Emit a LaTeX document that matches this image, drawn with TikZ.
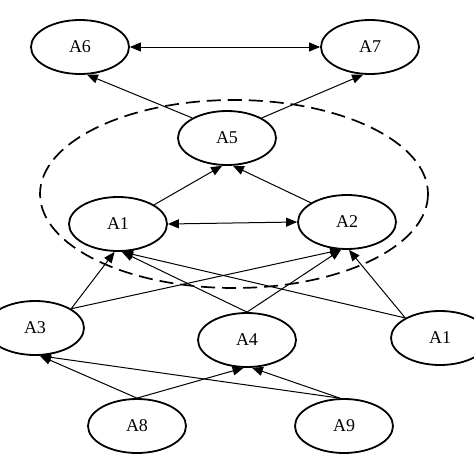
\documentclass[tikz,border=0pt]{standalone}
\usepackage{fontspec}
\setmainfont{Liberation Serif}
\usetikzlibrary{shapes.geometric,arrows.meta}
\begin{document}
\begin{tikzpicture}[x=1pt,y=-1pt,
  vnode/.style={ellipse,draw,line width=1.8pt,minimum width=98pt,minimum height=54pt,inner sep=0pt,font=\fontsize{18}{18}\selectfont},
  link/.style={line width=1pt,-{Triangle[length=11pt,width=9pt]}},
  blink/.style={line width=1pt,{Triangle[length=11pt,width=9pt]}-{Triangle[length=11pt,width=9pt]}}]
\useasboundingbox (0,0) rectangle (474,474);
\fill[white] (0,0) rectangle (474,474);
\draw[line width=1.7pt,dash pattern=on 14pt off 7pt] (234,194) ellipse [x radius=194, y radius=94];
\node[vnode] (A6) at (80,47) {A6};
\node[vnode] (A7) at (370,47) {A7};
\node[vnode] (A5) at (227,138) {A5};
\node[vnode] (A1) at (118,224) {A1};
\node[vnode] (A2) at (347,222) {A2};
\node[vnode] (A3) at (35,328) {A3};
\node[vnode] (A4) at (247,340) {A4};
\node[vnode] (A10) at (440,338) {A1};
\node[vnode] (A8) at (137,426) {A8};
\node[vnode] (A9) at (344,426) {A9};
\draw[blink] (A6.east) -- (A7.west);
\draw[link] (A5.150) -- (A6.-76);
\draw[link] (A5.30) -- (A7.-104);
\draw[link] (A1.28) -- (A5.-100);
\draw[link] (A2.152) -- (A5.-78);
\draw[blink] (A1.east) -- (A2.west);
\draw[link] (A3.28) -- (A1.-97);
\draw[link] (A3.28) -- (A2.-102);
\draw[link] (A4.90) -- (A1.-82);
\draw[link] (A4.90) -- (A2.-102);
\draw[link] (A10.150) -- (A1.-82);
\draw[link] (A10.150) -- (A2.-86);
\draw[link] (A8.90) -- (A3.-80);
\draw[link] (A9.98) -- (A3.-80);
\draw[link] (A8.90) -- (A4.-97);
\draw[link] (A9.98) -- (A4.-80);
\end{tikzpicture}
\end{document}
